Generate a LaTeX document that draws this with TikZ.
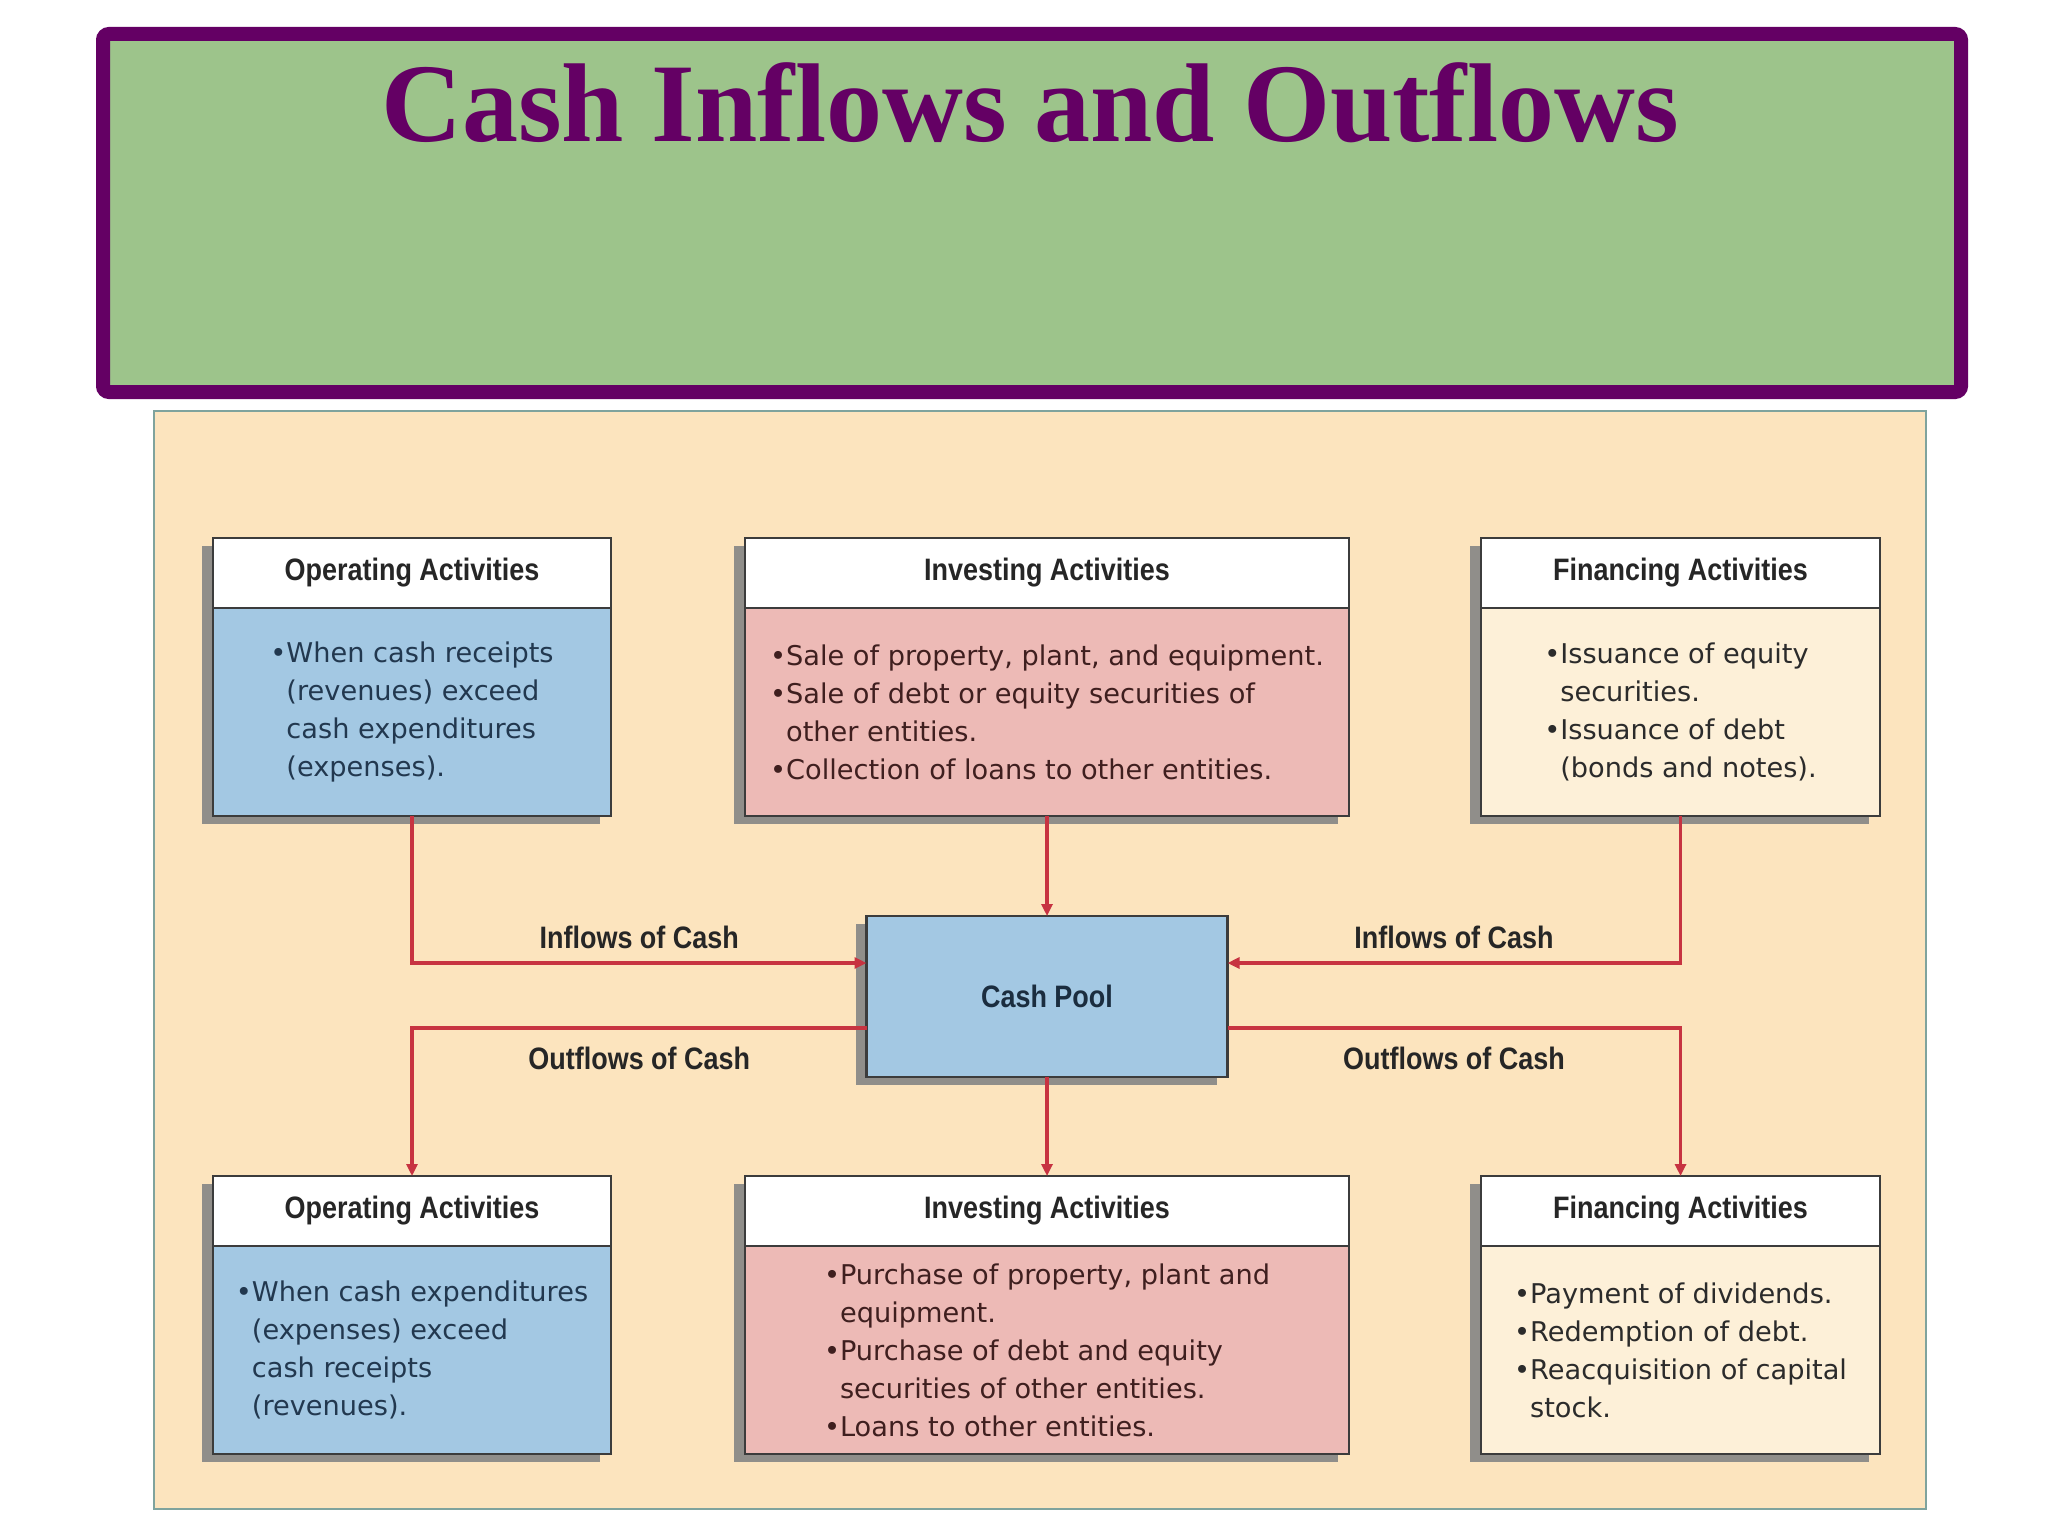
\documentclass[tikz,border=0pt]{standalone}
\usepackage{fontspec}
\setmainfont{DejaVu Sans}
\newfontfamily\headfont[FakeStretch=0.87]{Liberation Sans Bold}
\newfontfamily\titlefont{Liberation Serif Bold}
\newfontfamily\bodyfont{DejaVu Sans}
\usetikzlibrary{positioning,arrows.meta,shadows}
\definecolor{titlegreen}{HTML}{9DC48B}
\definecolor{titlepurple}{HTML}{640064}
\definecolor{panelbg}{HTML}{FCE4BE}
\definecolor{panelline}{HTML}{7FA39D}
\definecolor{opblue}{HTML}{A3C8E3}
\definecolor{invpink}{HTML}{EDBAB6}
\definecolor{fincream}{HTML}{FDF0D8}
\definecolor{flowred}{HTML}{C73341}
\definecolor{boxline}{HTML}{3C3C3C}
\definecolor{boxshade}{HTML}{858585}
\definecolor{optext}{HTML}{22384F}
\definecolor{invtext}{HTML}{3F1F1F}
\definecolor{fintext}{HTML}{2B2B2B}
\newcommand\ind{\hphantom{•}}
\tikzset{
    boxshadow/.style={drop shadow={shadow xshift=-5.5pt, shadow yshift=-4pt, fill=boxshade, opacity=.9}},
    headbox/.style={draw=boxline, line width=1.3pt, fill=white, outer sep=0pt, minimum width=#1, minimum height=35pt, text=black!85, font=\headfont\fontsize{15.5pt}{18pt}\selectfont, boxshadow},
    bodybox/.style={draw=boxline, line width=1.3pt, outer sep=0pt, minimum width=#1, minimum height=104pt, align=left, font=\bodyfont\fontsize{13.6pt}{19pt}\selectfont, boxshadow},
    poolbox/.style={draw=boxline, line width=1.3pt, fill=opblue, outer sep=0pt, minimum width=180.5pt, minimum height=80.5pt, text=optext!80!black, font=\headfont\fontsize{15.5pt}{18pt}\selectfont, boxshadow},
    flow/.style={draw=flowred, line width=1.8pt, -{Triangle[length=6pt,width=5.5pt]}},
    flowlabel/.style={text=black!85, font=\headfont\fontsize{15.5pt}{18pt}\selectfont}
}
\begin{document}
\begin{tikzpicture}[x=0.5pt, y=-0.5pt]
    \useasboundingbox (0,0) rectangle (2048,1536);
    \fill[white] (0,0) rectangle (2048,1536);
    \draw[draw=titlepurple, line width=7pt, fill=titlegreen, rounded corners=3pt] (103,34) rectangle (1961,392);
    \node[anchor=base, text=titlepurple, font=\titlefont\fontsize{56pt}{60pt}\selectfont] (title) at (1030,141) {Cash Inflows and Outflows};
    \draw[draw=panelline, line width=1pt, fill=panelbg] (154,411) rectangle (1926,1509);

    \node[headbox=199pt] (op_in_h) at (412,573) {Operating Activities};
    \node[bodybox=199pt, fill=opblue, text=optext, below=0pt of op_in_h] (op_in) {•When cash receipts\\\ind(revenues) exceed\\\ind cash expenditures\\\ind(expenses).};
    \node[headbox=302pt] (inv_in_h) at (1047,573) {Investing Activities};
    \node[bodybox=302pt, fill=invpink, text=invtext, below=0pt of inv_in_h] (inv_in) {•Sale of property, plant, and equipment.\\•Sale of debt or equity securities of\\\ind other entities.\\•Collection of loans to other entities.};
    \node[headbox=199.5pt] (fin_in_h) at (1680.5,573) {Financing Activities};
    \node[bodybox=199.5pt, fill=fincream, text=fintext, below=0pt of fin_in_h] (fin_in) {•Issuance of equity\\\ind securities.\\•Issuance of debt\\\ind(bonds and notes).};

    \node[poolbox] (pool) at (1047,996.5) {Cash Pool};

    \node[headbox=199pt] (op_out_h) at (412,1211) {Operating Activities};
    \node[bodybox=199pt, fill=opblue, text=optext, below=0pt of op_out_h] (op_out) {•When cash expenditures\\\ind(expenses) exceed\\\ind cash receipts\\\ind(revenues).};
    \node[headbox=302pt] (inv_out_h) at (1047,1211) {Investing Activities};
    \node[bodybox=302pt, fill=invpink, text=invtext, below=0pt of inv_out_h] (inv_out) {•Purchase of property, plant and\\\ind equipment.\\•Purchase of debt and equity\\\ind securities of other entities.\\•Loans to other entities.};
    \node[headbox=199.5pt] (fin_out_h) at (1680.5,1211) {Financing Activities};
    \node[bodybox=199.5pt, fill=fincream, text=fintext, below=0pt of fin_out_h] (fin_out) {•Payment of dividends.\\•Redemption of debt.\\•Reacquisition of capital\\\ind stock.};

    \draw[flow] (op_in.south) |- ([yshift=16.75pt]pool.west) node[flowlabel, pos=.75, yshift=13pt] {Inflows of Cash};
    \draw[flow] (inv_in.south) -- (pool.north);
    \draw[flow] (fin_in.south) |- ([yshift=16.75pt]pool.east) node[flowlabel, pos=.75, yshift=13pt] {Inflows of Cash};
    \draw[flow] ([yshift=-15.75pt]pool.west) -| (op_out_h.north) node[flowlabel, pos=.25, yshift=-15pt] {Outflows of Cash};
    \draw[flow] (pool.south) -- (inv_out_h.north);
    \draw[flow] ([yshift=-15.75pt]pool.east) -| (fin_out_h.north) node[flowlabel, pos=.25, yshift=-15pt] {Outflows of Cash};
\end{tikzpicture}
\end{document}
